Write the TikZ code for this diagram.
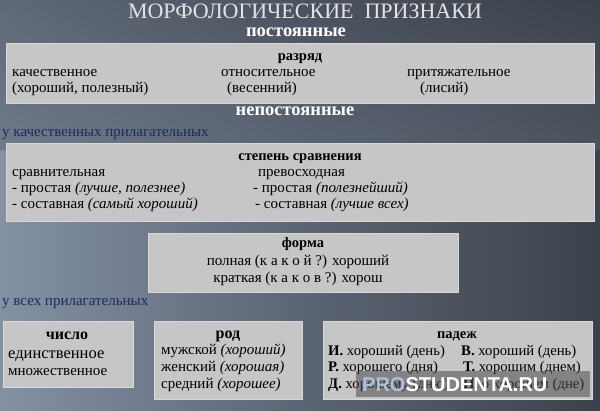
\documentclass[tikz,border=0pt]{standalone}
\usepackage{fontspec}
\setmainfont{Liberation Serif}
\newfontfamily\wmfont{Liberation Sans}
\definecolor{bgL}{HTML}{8391A3}
\definecolor{bgM}{HTML}{5C6574}
\definecolor{bgR}{HTML}{3C424B}
\definecolor{boxfill}{HTML}{C6C6C6}
\definecolor{boxline}{HTML}{D9D9D9}
\definecolor{navy}{HTML}{1B2B5E}
\definecolor{titlec}{HTML}{E4E4E4}
\definecolor{wmblue}{HTML}{A9C1DA}
\tikzset{
  panel/.style={fill=boxfill, draw=boxline, line width=1pt},
  txt/.style={inner sep=0pt, anchor=base west, text=black, font=\fontsize{15}{17}\selectfont},
  ctxt/.style={inner sep=0pt, anchor=base, text=black, font=\fontsize{15}{17}\selectfont},
  head/.style={inner sep=0pt, anchor=base, text=black, font=\fontsize{14.5}{16}\selectfont\bfseries},
  sect/.style={inner sep=0pt, anchor=base, text=white, font=\fontsize{18.5}{20}\selectfont\bfseries},
  sub/.style={inner sep=0pt, anchor=base west, text=navy, font=\fontsize{15}{17}\selectfont}
}
\begin{document}
\begin{tikzpicture}[x=1pt,y=-1pt]
\useasboundingbox (0,0) rectangle (600,411);
\shade[left color=bgL, right color=bgR, middle color=bgM] (0,0) rectangle (600,411);
\shade[top color=bgR, bottom color=bgM, fill opacity=0.5] (0,0) rectangle (600,150);
% title
\node[inner sep=0pt, anchor=base, text=titlec, font=\fontsize{22}{24}\selectfont] (title) at (305,19) {МОРФОЛОГИЧЕСКИЕ\ \ ПРИЗНАКИ};
\node[sect] (post) at (296,37) {постоянные};
% box 1
\node[panel, minimum width=588pt, minimum height=60pt, anchor=north west, inner sep=0pt] (b1) at (6,43) {};
\node[head] (razr) at (300,61) {разряд};
\node[txt] (k1) at (12,77) {качественное};
\node[txt] (k2) at (12,93) {(хороший, полезный)};
\node[txt] (o1) at (221,77) {относительное};
\node[txt] (o2) at (227,93) {(весенний)};
\node[txt] (p1) at (407,77) {притяжательное};
\node[txt] (p2) at (420,93) {(лисий)};
\node[sect] (nepost) at (295,116) {непостоянные};
\node[sub] (ukach) at (2,137) {у качественных прилагательных};
% box 2
\node[panel, minimum width=588pt, minimum height=78pt, anchor=north west, inner sep=0pt] (b2) at (6,143) {};
\node[head] (step) at (300,161) {степень сравнения};
\node[txt] (s1) at (12,177) {сравнительная};
\node[txt] (s2) at (12,193) {- простая \textit{(лучше, полезнее)}};
\node[txt] (s3) at (12,209) {- составная \textit{(самый хороший)}};
\node[txt] (r1) at (258,177) {превосходная};
\node[txt] (r2) at (253,193) {- простая \textit{(полезнейший)}};
\node[txt] (r3) at (255,209) {- составная \textit{(лучше всех)}};
% box 3
\node[panel, minimum width=310pt, minimum height=59pt, anchor=north west, inner sep=0pt] (b3) at (148,233) {};
\node[head] (forma) at (303,248) {форма};
\node[ctxt] (f1) at (298,266) {полная (к а к о й ?) хороший};
\node[ctxt] (f2) at (298,283) {краткая (к а к о в ?) хорош};
\node[sub] (uvseh) at (2,306) {у всех прилагательных};
% box 4
\node[panel, minimum width=130pt, minimum height=66pt, anchor=north west, inner sep=0pt] (b4) at (3,321) {};
\node[head, font=\fontsize{16}{18}\selectfont\bfseries] (chislo) at (67,340) {число};
\node[txt, font=\fontsize{16.5}{18}\selectfont] (c1) at (8,359) {единственное};
\node[txt] (c2) at (8,376) {множественное};
% box 5
\node[panel, minimum width=148pt, minimum height=78pt, anchor=north west, inner sep=0pt] (b5) at (154,321) {};
\node[head, font=\fontsize{16}{18}\selectfont\bfseries] (rod) at (228,339) {род};
\node[txt] (g1) at (161,355) {мужской \textit{(хороший)}};
\node[txt] (g2) at (161,372) {женский \textit{(хорошая)}};
\node[txt] (g3) at (161,389) {средний \textit{(хорошее)}};
% box 6
\node[panel, minimum width=269pt, minimum height=78pt, anchor=north west, inner sep=0pt] (b6) at (323,321) {};
\node[head] (padezh) at (457,339) {падеж};
\node[txt, font=\fontsize{14.7}{17}\selectfont] (i1) at (328,356) {\textbf{И.} хороший (день)};
\node[txt, font=\fontsize{14.7}{17}\selectfont] (i2) at (461,356) {\textbf{В.} хороший (день)};
\node[txt, font=\fontsize{14.7}{17}\selectfont] (i3) at (328,372) {\textbf{Р.} хорошего (дня)};
\node[txt, font=\fontsize{14.7}{17}\selectfont] (i4) at (463,372) {\textbf{Т.} хорошим (днем)};
\node[txt, font=\fontsize{14.7}{17}\selectfont] (i5) at (328,389) {\textbf{Д.} хорошему (дню)};
\node[txt, font=\fontsize{14.7}{17}\selectfont] (i6) at (463,389) {\textbf{П.} о хорошем (дне)};
% watermark
\fill[black!70, fill opacity=0.55] (356,371) rectangle (590,397);
\node[inner sep=0pt, anchor=base west, font=\wmfont\bfseries\fontsize{20}{22}\selectfont] (wm) at (362,392) {\textcolor{wmblue}{PRO}\textcolor{white}{STUDENTA.RU}};
\end{tikzpicture}
\end{document}
